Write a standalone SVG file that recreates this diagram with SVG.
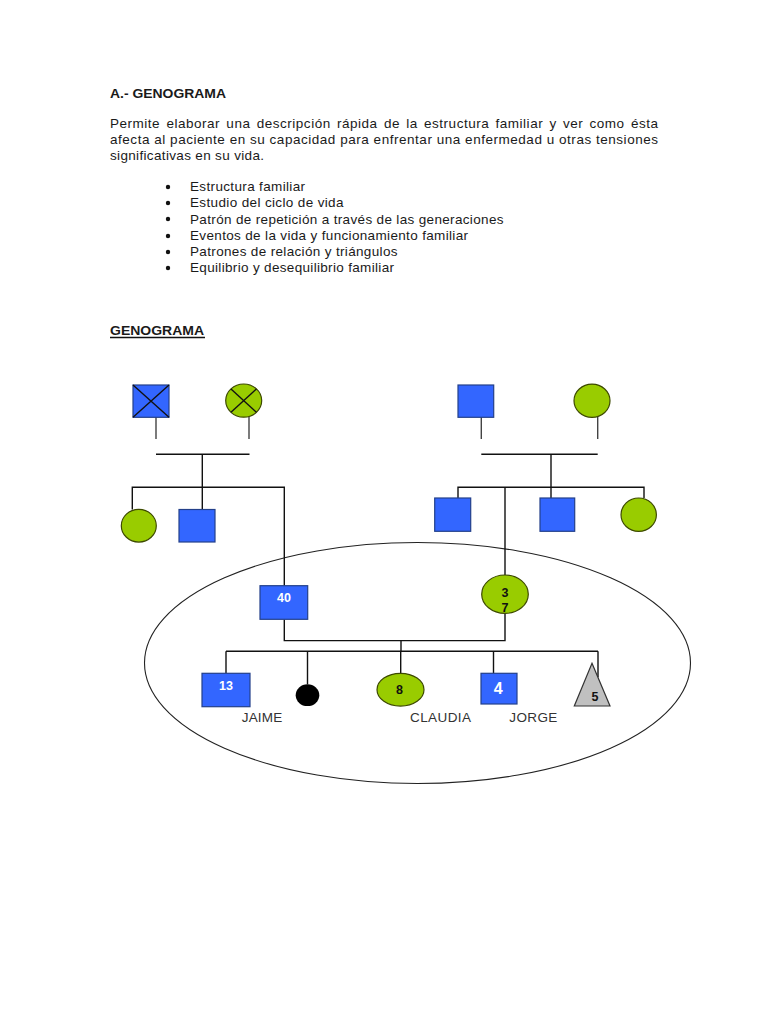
<svg xmlns="http://www.w3.org/2000/svg" width="768" height="1024" viewBox="0 0 768 1024">
<style>
text{font-family:"Liberation Sans",Arial,sans-serif;}
.body{font-size:13.5px;fill:#1a1a1a;}
.bold{font-weight:bold;}
.lbl{font-size:13.5px;fill:#333;}
.num{font-size:12.5px;font-weight:bold;text-anchor:middle;}
.sq{fill:#3366FF;stroke:#23408a;stroke-width:1.2;}
.ci{fill:#99CC00;stroke:#3d4a00;stroke-width:1.2;}
.ln{stroke:#111;stroke-width:1.4;fill:none;}
.gl{stroke:#444;stroke-width:1.4;fill:none;}
</style>
<rect width="768" height="1024" fill="#ffffff"/>
<g id="header">
<text class="body bold" x="110" y="98" textLength="116" lengthAdjust="spacingAndGlyphs">A.- GENOGRAMA</text>
<text class="body" x="110" y="128" textLength="548" lengthAdjust="spacing" word-spacing="2">Permite elaborar una descripción rápida de la estructura familiar y ver como ésta</text>
<text class="body" x="110" y="144" textLength="548" lengthAdjust="spacing">afecta al paciente en su capacidad para enfrentar una enfermedad u otras tensiones</text>
<text class="body" x="110" y="160" textLength="154" lengthAdjust="spacing">significativas en su vida.</text>
<g fill="#111">
<circle cx="168" cy="187" r="2.2"/><circle cx="168" cy="203" r="2.2"/><circle cx="168" cy="219" r="2.2"/>
<circle cx="168" cy="236" r="2.2"/><circle cx="168" cy="252" r="2.2"/><circle cx="168" cy="268" r="2.2"/>
</g>
<text class="body" x="190" y="191" textLength="115" lengthAdjust="spacing">Estructura familiar</text>
<text class="body" x="190" y="207" textLength="153.5" lengthAdjust="spacing">Estudio del ciclo de vida</text>
<text class="body" x="190" y="223.5" textLength="313.5" lengthAdjust="spacing">Patrón de repetición a través de las generaciones</text>
<text class="body" x="190" y="240" textLength="278" lengthAdjust="spacing">Eventos de la vida y funcionamiento familiar</text>
<text class="body" x="190" y="256" textLength="207.5" lengthAdjust="spacing">Patrones de relación y triángulos</text>
<text class="body" x="190" y="272" textLength="204" lengthAdjust="spacing">Equilibrio y desequilibrio familiar</text>
<text class="body bold" x="110" y="335" textLength="94" lengthAdjust="spacingAndGlyphs">GENOGRAMA</text>
<line x1="110" y1="337.5" x2="205" y2="337.5" stroke="#111" stroke-width="1.3"/>
</g>
<g id="household">
<ellipse cx="417.5" cy="663" rx="273" ry="120.5" fill="none" stroke="#222" stroke-width="1.1"/>
</g>
<g id="connectors">
<line class="gl" x1="156" y1="417" x2="156" y2="439"/>
<line class="gl" x1="249" y1="417" x2="249" y2="439"/>
<line class="ln" x1="156" y1="454.3" x2="249.5" y2="454.3"/>
<line class="ln" x1="202.3" y1="454.3" x2="202.3" y2="509.5"/>
<polyline class="ln" points="132.3,509.5 132.3,487.3 284.3,487.3 284.3,585.7"/>
<line class="gl" x1="481.3" y1="417" x2="481.3" y2="439"/>
<line class="gl" x1="597.7" y1="417" x2="597.7" y2="439"/>
<line class="ln" x1="481.3" y1="454.3" x2="597.7" y2="454.3"/>
<line class="ln" x1="551" y1="454.3" x2="551" y2="498"/>
<polyline class="ln" points="458,498 458,487.3 644,487.3 644,498"/>
<line class="ln" x1="505" y1="487.3" x2="505" y2="575"/>
<polyline class="ln" points="284.3,619.5 284.3,640.6 505,640.6 505,613"/>
<line class="ln" x1="401" y1="640.6" x2="401" y2="651.3"/>
<line class="ln" x1="226" y1="651.3" x2="598" y2="651.3"/>
<line class="ln" x1="226" y1="651.3" x2="226" y2="673.3"/>
<line class="ln" x1="307.5" y1="651.3" x2="307.5" y2="684.3"/>
<line class="ln" x1="400.7" y1="651.3" x2="400.7" y2="673.3"/>
<line class="ln" x1="493.5" y1="651.3" x2="493.5" y2="673.3"/>
<line class="ln" x1="598" y1="651.3" x2="598" y2="677.3"/>
</g>
<g id="pgf-deceased">
<rect class="sq" x="133" y="385" width="36" height="32.3"/>
<line class="ln" x1="133" y1="385" x2="169" y2="417.3"/>
<line class="ln" x1="169" y1="385" x2="133" y2="417.3"/>
</g>
<g id="pgm-deceased">
<ellipse class="ci" cx="243.7" cy="400.6" rx="18" ry="16.6"/>
<line class="ln" x1="231" y1="388.9" x2="256.4" y2="412.3"/>
<line class="ln" x1="256.4" y1="388.9" x2="231" y2="412.3"/>
</g>
<g id="mgf"><rect class="sq" x="458" y="385" width="35.7" height="32.3"/></g>
<g id="mgm"><ellipse class="ci" cx="592" cy="400.7" rx="18" ry="16.6"/></g>
<g id="p-aunt"><ellipse class="ci" cx="138.8" cy="525.7" rx="17.5" ry="16.4"/></g>
<g id="p-uncle"><rect class="sq" x="179" y="509.5" width="36" height="32.5"/></g>
<g id="m-uncle1"><rect class="sq" x="434.7" y="498" width="36" height="33.3"/></g>
<g id="m-uncle2"><rect class="sq" x="540" y="498" width="34.7" height="33.3"/></g>
<g id="m-aunt"><ellipse class="ci" cx="638.7" cy="514.7" rx="17.7" ry="16.7"/></g>
<g id="father">
<rect class="sq" x="260" y="585.7" width="47.7" height="33.6"/>
<text class="num" x="284" y="602.3" fill="#ffffff">40</text>
</g>
<g id="mother">
<ellipse class="ci" cx="505" cy="594.2" rx="23.3" ry="19.2"/>
<text class="num" x="505" y="596.7" fill="#111">3</text>
<text class="num" x="505" y="611.7" fill="#111">7</text>
</g>
<g id="jaime">
<rect class="sq" x="202" y="673.3" width="48" height="33.4"/>
<text class="num" x="226" y="690" fill="#ffffff">13</text>
<text class="lbl" x="241.7" y="721.5" textLength="40.6" lengthAdjust="spacing">JAIME</text>
</g>
<g id="deceased-child"><ellipse cx="307.5" cy="695.2" rx="11.8" ry="10.9" fill="#000"/></g>
<g id="claudia">
<ellipse class="ci" cx="400.5" cy="689.7" rx="23.5" ry="16.4"/>
<text class="num" x="399.5" y="694.3" fill="#111">8</text>
<text class="lbl" x="410" y="721.5" textLength="61" lengthAdjust="spacing">CLAUDIA</text>
</g>
<g id="jorge">
<rect class="sq" x="481" y="673.3" width="36" height="30.7"/>
<text x="498.3" y="693.5" font-size="16" font-weight="bold" fill="#ffffff" text-anchor="middle">4</text>
<text class="lbl" x="509.3" y="721.5" textLength="48" lengthAdjust="spacing">JORGE</text>
</g>
<g id="unknown-child">
<polygon points="592,663.3 610,706 574.3,706" fill="#C0C0C0" stroke="#333" stroke-width="1.2"/>
<text class="num" x="595" y="700.7" fill="#111">5</text>
</g>
</svg>
